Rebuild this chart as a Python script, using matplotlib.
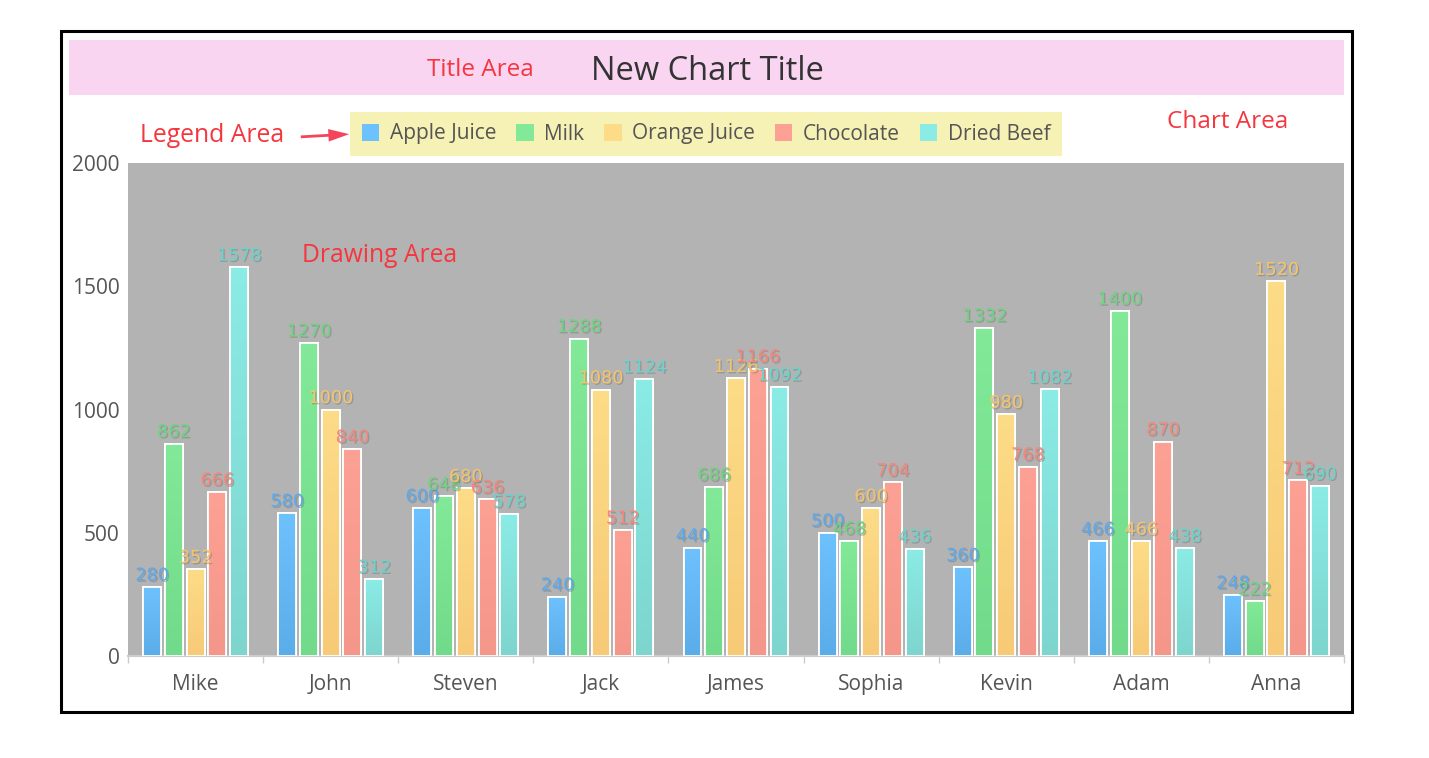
import matplotlib.pyplot as plt
import matplotlib.patheffects as pe
from matplotlib.colors import LinearSegmentedColormap
from matplotlib.patches import Rectangle, FancyArrowPatch
import numpy as np

# datos del gráfico
names = ['Mike', 'John', 'Steven', 'Jack', 'James', 'Sophia', 'Kevin', 'Adam', 'Anna']
series = ['Apple Juice', 'Milk', 'Orange Juice', 'Chocolate', 'Dried Beef']
apple_juice = [280, 580, 600, 240, 440, 500, 360, 466, 248]
milk = [862, 1270, 648, 1288, 686, 468, 1332, 1400, 222]
orange_juice = [352, 1000, 680, 1080, 1126, 600, 980, 466, 1520]
chocolate = [666, 840, 636, 512, 1166, 704, 768, 870, 712]
dried_beef = [1578, 312, 578, 1124, 1092, 436, 1082, 438, 690]
values = [apple_juice, milk, orange_juice, chocolate, dried_beef]

# colores (arriba, abajo, etiqueta)
top_colors = ['#6dc1fc', '#81e997', '#fddc87', '#fda194', '#8bebe5']
bot_colors = ['#5badea', '#72db8b', '#f7ca77', '#f5968a', '#7dd5ce']
lab_colors = ['#5aa9ee', '#6dd47f', '#f5c46a', '#f5877a', '#68d4cb']

W, H = 1429, 758
fig = plt.figure(figsize=(W / 100, H / 100), dpi=100)
fig.patch.set_facecolor('white')

def fx(px):
    return px / W

def fy(py):
    return 1 - py / H

# marco exterior y zona de título
fig.patches.append(Rectangle((fx(61), fy(712)), fx(1352) - fx(61), fy(31) - fy(712),
                             transform=fig.transFigure, fill=False, edgecolor='black', linewidth=2.2))
fig.patches.append(Rectangle((fx(69), fy(95)), fx(1344) - fx(69), fy(40) - fy(95),
                             transform=fig.transFigure, facecolor='#f9d5f1', edgecolor='none'))

ax = fig.add_axes([fx(128), fy(656), fx(1344) - fx(128), fy(163) - fy(656)])
ax.set_facecolor('#b3b3b3')

x = np.arange(len(names))
step = 0.161
width = 0.133
shadow = [pe.SimplePatchShadow(offset=(1, -1), shadow_rgbFace='#777777', alpha=0.45), pe.Normal()]

handles = []
for i, (s, vals) in enumerate(zip(series, values)):
    pos = x + (i - 2) * step
    bars = ax.bar(pos, vals, width=width, color=bot_colors[i], edgecolor='white', linewidth=1.3, zorder=3,
                  label=s)
    cmap = LinearSegmentedColormap.from_list('g%d' % i, [bot_colors[i], top_colors[i]])
    for b in bars:
        x0, w, h = b.get_x(), b.get_width(), b.get_height()
        im = ax.imshow(np.linspace(0, 1, 64).reshape(-1, 1), cmap=cmap, origin='lower', aspect='auto',
                       extent=(x0, x0 + w, 0, h), zorder=3.5)
        im.set_clip_path(b)
        ax.bar(x0 + w / 2, h, width=w, fill=False, edgecolor='white', linewidth=1.3, zorder=4)
    for p, v in zip(pos, vals):
        ax.text(p, v + 10, str(v), ha='center', va='bottom', fontsize=12.7, color=lab_colors[i],
                family='DejaVu Sans', zorder=5, path_effects=shadow)
    handles.append(Rectangle((0, 0), 1, 1, facecolor=top_colors[i], edgecolor='none'))

ax.set_xlim(-0.5, len(names) - 0.5)
ax.set_ylim(0, 2000)
ax.set_yticks([0, 500, 1000, 1500, 2000])
ax.set_xticks(x)
ax.set_xticklabels(names, fontsize=15, color='#555555', family='Open Sans')
ax.set_xticks(np.arange(-0.5, len(names), 1), minor=True)
ax.tick_params(axis='x', which='major', length=0, pad=13)
ax.tick_params(axis='x', which='minor', length=5, color='#cccccc', width=1)
ax.tick_params(axis='y', length=0, pad=6, labelsize=15, labelcolor='#555555')
for t in ax.get_yticklabels():
    t.set_family('Open Sans')
for side in ['top', 'right', 'left']:
    ax.spines[side].set_visible(False)
ax.spines['bottom'].set_color('#cccccc')
ax.spines['bottom'].set_linewidth(1.5)

# leyenda
leg = fig.legend(handles, series, loc='center', bbox_to_anchor=(fx(706), fy(134)), ncol=5,
                 frameon=True, fancybox=False, handlelength=0.85, handleheight=0.85,
                 handletextpad=0.5, columnspacing=0.95, borderpad=0.55,
                 prop={'family': 'Open Sans', 'size': 15})
leg.get_frame().set_facecolor('#f6f1b5')
leg.get_frame().set_edgecolor('none')
leg.get_frame().set_alpha(1)
for t in leg.get_texts():
    t.set_color('#555555')

# textos
fig.text(fx(707), fy(71), 'New Chart Title', ha='center', va='center', fontsize=23.5, color='#333333',
         family='Open Sans')
red = '#f5363e'
fig.text(fx(480), fy(70), 'Title Area', ha='center', va='center', fontsize=17.5, color=red, family='Open Sans')
fig.text(fx(212), fy(135), 'Legend Area', ha='center', va='center', fontsize=17.8, color=red, family='Open Sans')
fig.text(fx(1228), fy(122), 'Chart Area', ha='center', va='center', fontsize=17.5, color=red, family='Open Sans')
fig.text(fx(380), fy(256), 'Drawing Area', ha='center', va='center', fontsize=17.7, color=red, family='Open Sans')
fig.patches.append(FancyArrowPatch((fx(298), fy(137)), (fx(352), fy(134)), transform=fig.transFigure,
                                   arrowstyle='simple,head_width=9,head_length=15,tail_width=2',
                                   color='#f5455a', linewidth=0))

fig.savefig('out.png', dpi=100)
